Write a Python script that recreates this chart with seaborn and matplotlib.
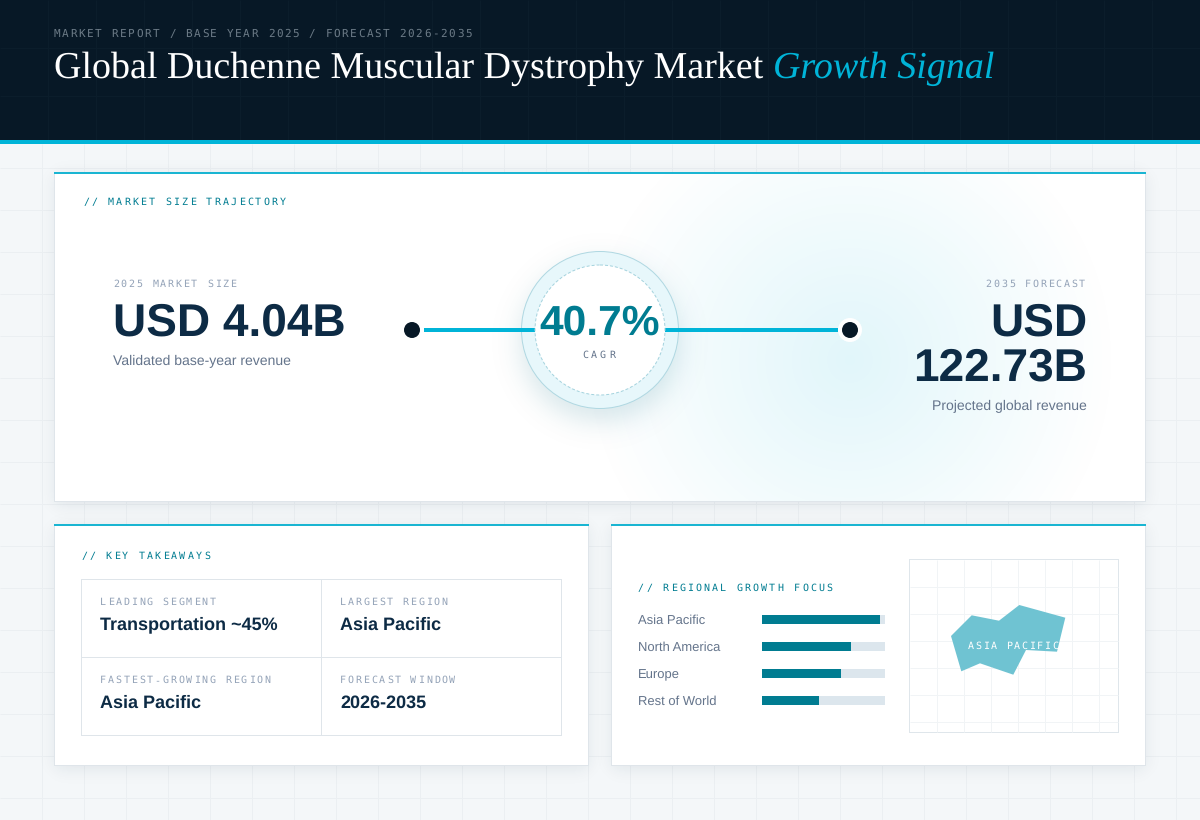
import numpy as np
import pandas as pd
import matplotlib
matplotlib.use("Agg")
import matplotlib.pyplot as plt
import seaborn as sns
from matplotlib.text import Text
from matplotlib.transforms import IdentityTransform, Bbox
from matplotlib.patches import Rectangle, Circle, Polygon
from matplotlib.collections import LineCollection

# ---------- data ----------
regions = ["Asia Pacific", "North America", "Europe", "Rest of World"]
region_growth = [96, 72, 64, 46]
region_track = [100, 100, 100, 100]
takeaway_labels = ["LEADING SEGMENT", "LARGEST REGION", "FASTEST-GROWING REGION", "FORECAST WINDOW"]
takeaway_values = ["Transportation ~45%", "Asia Pacific", "Asia Pacific", "2026-2035"]
base_size = "USD 4.04B"
forecast_size_lines = ["USD", "122.73B"]
cagr = "40.7%"

# ---------- palette ----------
NAVY = "#071826"
INK = "#0d2b45"
CYAN = "#00b4d8"
TEAL = "#007c91"
SLATE = "#64748b"
MUTED = "#94a3b8"
PAGE = "#f4f7f9"
PAGE_GRID = "#ebeff2"
BORDER = "#dfe5ea"
TRACK = "#dce6ed"
MAP_FILL = "#6fc3d2"
SANS = "Liberation Sans"
SERIF = "Liberation Serif"
MONO = "DejaVu Sans Mono"

sns.set_theme(style="white")
plt.rcParams.update({"font.family": [SANS, "DejaVu Sans"], "savefig.facecolor": PAGE, "text.hinting": "none"})


def pt(px):
    return px * 0.72


class SpacedText(Text):
    """One real text whose monospace glyphs are drawn with CSS-like letter-spacing."""

    def __init__(self, x, y, s, px=10, step=8.0, **kw):
        super().__init__(x, y, s, fontsize=pt(px), fontfamily=MONO, va="baseline", **kw)
        self._px = px
        self._step = step

    def _start(self):
        x0, y0 = self.get_transform().transform(self.get_position())
        w = self._step * len(self.get_text())
        ha = self.get_ha()
        if ha == "center":
            x0 -= w / 2
        elif ha == "right":
            x0 -= w
        return x0, y0, w

    def get_window_extent(self, renderer=None, dpi=None):
        x0, y0, w = self._start()
        return Bbox.from_bounds(x0, y0 - self._px * 0.2, w, self._px)

    def draw(self, renderer):
        if not self.get_visible():
            return
        x0, y0, _ = self._start()
        for i, ch in enumerate(self.get_text()):
            if ch == " ":
                continue
            t = Text(x0 + i * self._step, y0, ch, transform=IdentityTransform(), color=self.get_color(),
                     fontproperties=self.get_fontproperties(), va="baseline", ha="left", alpha=self.get_alpha())
            t.set_figure(self.get_figure())
            t.draw(renderer)
        self.stale = False


fig = plt.figure(figsize=(12, 8.2000001), dpi=100, facecolor=PAGE)
ax = fig.add_axes([0, 0, 1, 1])
ax.set_axis_off()


def spaced(x, y, s, px=10, step=8.0, color=TEAL, ha="left", z=10):
    t = SpacedText(x, y, s, px=px, step=step, color=color, ha=ha, zorder=z)
    ax.add_artist(t)
    t.set_clip_on(False)
    return t


def rect(x0, y0, x1, y1, color, z=2, **kw):
    ax.add_patch(Rectangle((x0, y0), x1 - x0, y1 - y0, facecolor=color, edgecolor="none", zorder=z, **kw))


def cdf(t):
    return 0.5 * (1 + np.tanh(1.25 * t))


def box_shadow(x0, y0, x1, y1, sigma, dy, rgb, alpha, z=1):
    pad = int(sigma * 3)
    l, r, t, b = x0 - pad, x1 + pad, y0 - pad + dy, y1 + pad + dy
    X, Y = np.meshgrid(np.arange(l, r) + .5, np.arange(t, b) + .5)
    a = (cdf((X - x0) / sigma) - cdf((X - x1) / sigma)) * (cdf((Y - y0 - dy) / sigma) - cdf((Y - y1 - dy) / sigma))
    img = np.zeros(a.shape + (4,))
    img[..., :3] = rgb
    img[..., 3] = a * alpha
    ax.imshow(img, extent=(l, r, b, t), zorder=z, interpolation="nearest", aspect="auto")


def radial(cx, cy, R, rgb, alpha, bounds, z):
    l, t, r, b = bounds
    X, Y = np.meshgrid(np.arange(l, r) + .5, np.arange(t, b) + .5)
    d = np.hypot(X - cx, Y - cy)
    a = np.clip(1 - d / R, 0, 1) * alpha
    img = np.zeros(a.shape + (4,))
    img[..., :3] = rgb
    img[..., 3] = a
    ax.imshow(img, extent=(l, r, b, t), zorder=z, interpolation="nearest", aspect="auto")


def vlines(xs, y0, y1):
    return [[(x + .25, y0), (x + .25, y1)] for x in xs]


def hlines(ys, x0, x1):
    return [[(x0, y + .25), (x1, y + .25)] for y in ys]


# page + header
ax.add_collection(LineCollection(vlines(range(42, 1200, 42), 144, 820) + hlines(range(168, 820, 42), 0, 1200),
                                 colors=PAGE_GRID, linewidths=pt(1), zorder=0.5))
rect(0, 0, 1200, 140, NAVY, z=0.6)
ax.add_collection(LineCollection(vlines(range(48, 1200, 48), 0, 140) + hlines(range(48, 140, 48), 0, 1200),
                                 colors="#0b1d2b", linewidths=pt(1), zorder=0.7))
rect(0, 140, 1200, 144, CYAN, z=0.8)
spaced(54, 37, "MARKET REPORT / BASE YEAR 2025 / FORECAST 2026-2035", px=11, step=8.22, color="#6b7a86")
ax.text(54, 78, "Global Duchenne Muscular Dystrophy Market", color="white", fontsize=pt(38), family=SERIF, va="baseline", zorder=10)
ax.text(773, 78, "Growth Signal", color=CYAN, fontsize=pt(38), family=SERIF, style="italic", va="baseline", zorder=10)

# cards
cards = [(55, 172, 1145, 501), (55, 524, 588, 765), (612, 524, 1145, 765)]
for (x0, y0, x1, y1) in cards:
    box_shadow(x0, y0, x1, y1, 12, 4, (0.05, 0.17, 0.27), 0.09, z=1)
    rect(x0 - 1, y0, x1 + 1, y1 + 1, BORDER, z=2)
    rect(x0, y0, x1, y1, "white", z=2.1)
    rect(x0 - 1, y0, x1 + 1, y0 + 2, "#1ab5d2", z=2.6)

# trajectory card
radial(850, 360, 270, (0.0, 0.706, 0.847), 0.12, (580, 174, 1145, 501), 2.2)
spaced(83, 205, "// MARKET SIZE TRAJECTORY", px=10, step=8.2)
spaced(113, 287, "2025 MARKET SIZE", px=10, step=7.82, color=MUTED)
ax.text(113, 335.5, base_size, color=INK, fontsize=pt(46), fontweight="bold", va="baseline", zorder=10)
ax.text(113, 365, "Validated base-year revenue", color=SLATE, fontsize=pt(14), va="baseline", zorder=10)
spaced(1087, 287, "2035 FORECAST", px=10, step=7.82, color=MUTED, ha="right")
for line, base in zip(forecast_size_lines, (335.5, 380)):
    ax.text(1087, base, line, color=INK, fontsize=pt(46), fontweight="bold", ha="right", va="baseline", zorder=10)
ax.text(1087, 410, "Projected global revenue", color=SLATE, fontsize=pt(14), ha="right", va="baseline", zorder=10)

# CAGR node
X, Y = np.meshgrid(np.arange(460, 740) + .5, np.arange(200, 490) + .5)
shadow_a = cdf((79 - np.hypot(X - 600, Y - 342)) / 20) * 0.15
shadow = np.zeros(shadow_a.shape + (4,))
shadow[..., :3] = (0.0, 0.40, 0.50)
shadow[..., 3] = shadow_a
ax.imshow(shadow, extent=(460, 740, 490, 200), zorder=3, interpolation="nearest", aspect="auto")
ax.add_patch(Circle((600, 330), 78.5, facecolor="#e7f7fb", edgecolor="#b0d8e2", lw=pt(1), zorder=4))
rect(424, 328, 535, 332, CYAN, z=5)
rect(665, 328, 838, 332, CYAN, z=5)
ax.add_patch(Circle((600, 330), 65, facecolor="white", edgecolor="#a5d3de", lw=pt(1), ls=(0, (3, 2)), zorder=6))
ax.add_patch(Circle((412, 330), 8, facecolor=NAVY, edgecolor="none", zorder=7))
ax.add_patch(Circle((850, 330), 12, facecolor="white", edgecolor="none", zorder=7))
ax.add_patch(Circle((850, 330), 8, facecolor=NAVY, edgecolor="none", zorder=8))
ax.text(600, 335, cagr, color=TEAL, fontsize=pt(42.5), fontweight="bold", ha="center", va="baseline", zorder=10)
spaced(600, 358, "CAGR", px=10, step=9, color=SLATE, ha="center")

# takeaways
spaced(81, 559, "// KEY TAKEAWAYS", px=10, step=8.2)
rect(81, 579, 562, 736, BORDER, z=3)
rect(82, 580, 561, 735, "white", z=3.1)
rect(321, 580, 322, 735, BORDER, z=3.2)
rect(82, 657, 561, 658, BORDER, z=3.2)
for lab, val, (x, y) in zip(takeaway_labels, takeaway_values, [(100, 605), (340, 605), (100, 683), (340, 683)]):
    spaced(x, y, lab, px=10, step=7.82, color=MUTED)
    ax.text(x, y + 24.5, val, color=INK, fontsize=pt(18), fontweight="bold", va="baseline", zorder=10)

# regional bars
spaced(638, 591, "// REGIONAL GROWTH FOCUS", px=10, step=8.2)

# map panel
rect(909, 559, 1119, 733, "#dfe6eb", z=3)
rect(910, 560, 1118, 732, "white", z=3.1)
ax.add_collection(LineCollection(vlines(range(937, 1118, 27), 560, 732) + hlines(range(587, 732, 27), 910, 1118),
                                 colors="#f1f4f6", linewidths=pt(1), zorder=3.2))
map_outline = [(951, 636), (971.7, 615.3), (999, 620.7), (1019.3, 605), (1065.3, 617.7), (1057, 651.7),
               (1026, 650), (1013.3, 674.7), (980, 663.3), (961.3, 671.3)]
ax.add_patch(Polygon(map_outline, closed=True, facecolor=MAP_FILL, edgecolor="none", zorder=3.3))
spaced(968, 649, "ASIA PACIFIC", px=10, step=7.65, color="white")

ax.set_xlim(0, 1200)
ax.set_ylim(820, 0)

bar_ax = fig.add_axes([762 / 1200, 1 - 714 / 820, 123 / 1200, 108 / 820])
df = pd.DataFrame({"region": regions, "growth": region_growth, "track": region_track})
sns.barplot(data=df, y="region", x="track", color=TRACK, saturation=1, width=1 / 3, linewidth=0, ax=bar_ax)
sns.barplot(data=df, y="region", x="growth", color=TEAL, saturation=1, width=1 / 3, linewidth=0, ax=bar_ax)
bar_ax.set_xlim(0, 100)
bar_ax.set_xlabel("")
bar_ax.set_ylabel("")
bar_ax.set_xticks([])
bar_ax.patch.set_alpha(0)
sns.despine(ax=bar_ax, left=True, bottom=True)
bar_ax.tick_params(axis="y", length=0, pad=pt(124))
for lab in bar_ax.get_yticklabels():
    lab.set_ha("left")
    lab.set_fontsize(pt(13))
    lab.set_color(SLATE)
    lab.set_fontfamily(SANS)

fig.savefig("out.png", dpi=100)
